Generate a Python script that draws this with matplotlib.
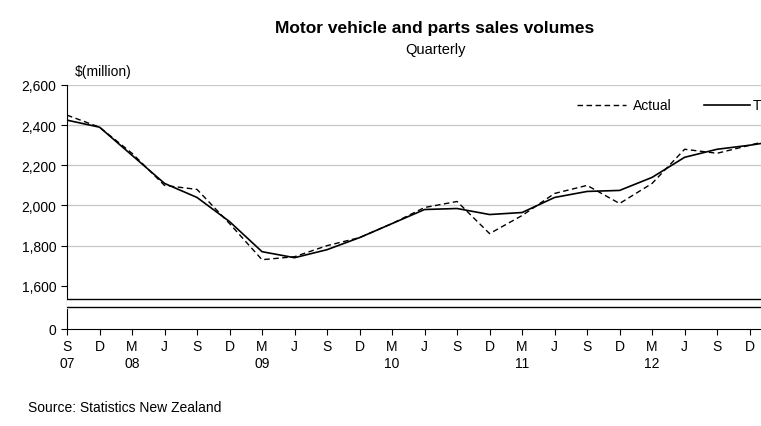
import matplotlib
matplotlib.use("Agg")
import matplotlib.pyplot as plt

plt.rcParams['font.family'] = ['Liberation Sans', 'DejaVu Sans']

quarters = ["S","D","M","J","S","D","M","J","S","D","M","J","S","D","M","J","S","D","M","J","S","D","M"]
years = {0:"07",2:"08",6:"09",10:"10",14:"11",18:"12"}
actual = [2450,2390,2260,2100,2080,1910,1730,1745,1800,1840,1910,1990,2020,1860,1950,2060,2100,2010,2110,2280,2260,2300,2340]
trend  = [2425,2390,2250,2110,2040,1920,1770,1740,1780,1840,1910,1980,1985,1955,1965,2040,2070,2075,2140,2240,2280,2300,2325]

fig = plt.figure(figsize=(7.61,4.27), dpi=100)
ax = fig.add_axes([67/761, 1-330/427, 1-67/761, (330-86)/427])
x = list(range(len(actual)))
zero_pos = 1385
ax.set_ylim(zero_pos, 2600)
ax.set_xlim(0, 21.35)
for v in [1800,2000,2200,2400,2600]:
    ax.axhline(v, color='#c8c8c8', lw=0.9, zorder=0)
ax.plot(x, actual, color='black', lw=1.0, ls=(0,(4,2.5)))
ax.plot(x, trend, color='black', lw=1.2)
# axis break
ax.axhspan(1490, 1535, color='white', zorder=3)
ax.axhline(1535, color='black', lw=1.0, zorder=4)
ax.axhline(1495, color='black', lw=1.0, zorder=4)
ax.set_yticks([zero_pos,1600,1800,2000,2200,2400,2600])
ax.set_yticklabels(["0","1,600","1,800","2,000","2,200","2,400","2,600"], fontsize=10)
ax.set_xticks(x[:22])
ax.set_xticklabels([q + ("\n"+years[i] if i in years else "") for i,q in enumerate(quarters[:22])], fontsize=10, va='top')
ax.tick_params(axis='x', length=4, direction='out')
ax.tick_params(axis='y', length=4, direction='out')
for s in ['top','right']:
    ax.spines[s].set_visible(False)
# legend
ax.plot([15.7,17.2],[2500,2500], color='black', lw=1.0, ls=(0,(4,2.5)), clip_on=False)
ax.text(17.4, 2500, "Actual", fontsize=10, va='center')
ax.plot([19.6,21.0],[2500,2500], color='black', lw=1.2, clip_on=False)
ax.text(21.1, 2500, "Trend", fontsize=10, va='center', clip_on=False)
fig.text(435/761, 1-28/427, "Motor vehicle and parts sales volumes", ha='center', va='center', fontsize=12.5, fontweight='bold')
fig.text(435/761, 1-50/427, "Quarterly", ha='center', va='center', fontsize=10.5)
fig.text(75/761, 1-72/427, "$(million)", ha='left', va='center', fontsize=10)
fig.text(28/761, 1-408/427, "Source: Statistics New Zealand", ha='left', va='center', fontsize=10)
fig.savefig("out.png", dpi=100)
